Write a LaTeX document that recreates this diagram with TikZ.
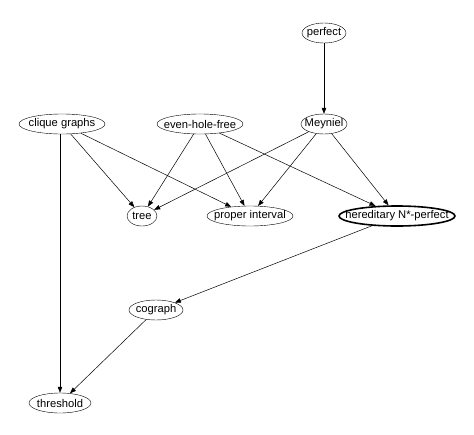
\documentclass[tikz,border=0pt]{standalone}
\usepackage{fontspec}
\setmainfont{Liberation Sans}
\usetikzlibrary{arrows.meta,shapes.geometric}
\newcommand{\clname}[1]{\makebox[0pt]{#1}}

\begin{document}
\begin{tikzpicture}[
    x=1pt, y=-1pt,
    cls/.style={draw, ellipse, inner sep=0pt, minimum height=20pt,
                font=\fontsize{11.2}{13}\selectfont},
    sub/.style={-{Triangle[length=6pt,width=4.5pt]}, line width=0.5pt},
]
\useasboundingbox (0,0) rectangle (474,434);

% Graph nodes
\node[cls, minimum width=44pt] (perfect) at (324,33) {\clname{perfect}};
\node[cls, minimum width=86pt] (clique) at (62,124) {\clname{clique graphs}};
\node[cls, minimum width=86pt] (ehf) at (200,124) {\clname{even-hole-free}};
\node[cls, minimum width=46pt] (meyniel) at (324,124) {\clname{Meyniel}};
\node[cls, minimum width=30pt] (tree) at (142,216) {\clname{tree}};
\node[cls, minimum width=86pt] (pint) at (250,216) {\clname{proper interval}};
\node[cls, minimum width=116pt, line width=1.6pt] (hnp) at (397,216) {\clname{hereditary N*-perfect}};
\node[cls, minimum width=54pt] (cograph) at (156,310) {\clname{cograph}};
\node[cls, minimum width=62pt] (threshold) at (60,403) {\clname{threshold}};

% Edges
\draw[sub] (perfect) -- (meyniel);
\draw[sub] (clique.south -| 60,0) -- (threshold);
\draw[sub] (clique) -- (tree);
\draw[sub] (clique) -- (pint);
\draw[sub] (ehf) -- (tree);
\draw[sub] (ehf) -- (pint);
\draw[sub] (ehf) -- (hnp);
\draw[sub] (meyniel) -- (tree);
\draw[sub] (meyniel) -- (pint);
\draw[sub] (meyniel) -- (hnp);
\draw[sub] (hnp) -- (cograph);
\draw[sub] (cograph) -- (threshold);
\end{tikzpicture}
\end{document}
